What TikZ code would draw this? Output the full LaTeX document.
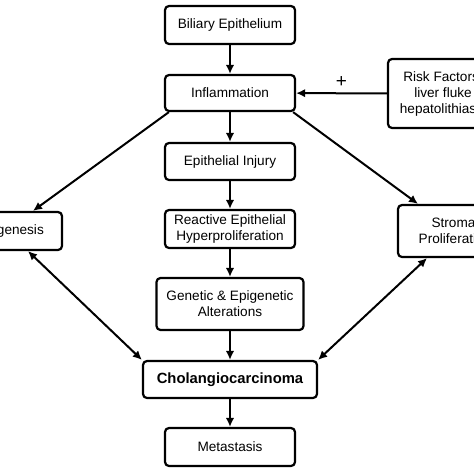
\documentclass[tikz,border=0pt]{standalone}
\usepackage{fontspec}
\setmainfont{Liberation Sans}
\usetikzlibrary{arrows.meta,calc}
\tikzset{
  stage/.style={draw, line width=2.2pt, rounded corners=4pt, align=center, inner sep=0pt,
    minimum width=130pt, minimum height=37pt, font=\fontsize{13.6}{16}\selectfont},
  flow/.style={line width=2pt, -{Latex[length=9pt,width=8.5pt]}},
  mutual/.style={line width=2pt, {Latex[length=9pt,width=8.5pt]}-{Latex[length=9pt,width=8.5pt]}}
}
\begin{document}
\begin{tikzpicture}[x=1pt,y=-1pt]
\useasboundingbox (0,0) rectangle (474,474);
\clip (0,0) rectangle (474,474);
% main column
\node[stage, minimum height=38pt] (bil) at (230,25) {Biliary Epithelium};
\node[stage, minimum height=36pt] (infl) at (230,93) {Inflammation};
\node[stage] (inj) at (230,161.5) {Epithelial Injury};
\node[stage, minimum height=38pt] (hyp) at (230,229) {Reactive Epithelial\\Hyperproliferation};
\node[stage, minimum width=147pt, minimum height=52pt] (gen) at (230,304) {Genetic \& Epigenetic\\Alterations};
\node[stage, minimum width=174pt, font=\fontsize{14.8}{17}\selectfont\bfseries] (cca) at (230,379.5) {Cholangiocarcinoma};
\node[stage, minimum height=38pt] (met) at (230,447) {Metastasis};
% side boxes
\node[stage, minimum width=118pt, minimum height=38pt] (ang) at (3,231) {Angiogenesis};
\node[stage, minimum width=114pt, minimum height=52pt] (strm) at (455,231) {Stromal\\Proliferation};
\node[stage, minimum width=110pt, minimum height=69pt] (risk) at (443,93.5) {Risk Factors:\\liver fluke\\hepatolithiasis};
% arrows
\draw[flow] (bil) -- (infl);
\draw[flow] (infl) -- (inj);
\draw[flow] (inj) -- (hyp);
\draw[flow] (hyp) -- (gen);
\draw[flow] (gen) -- (cca);
\draw[flow] (cca) -- (met);
\draw[flow] (risk) -- node[above=1pt, font=\fontsize{19}{20}\selectfont] (plus) {+} (infl);
\draw[flow] ($(infl.south west)+(5,0)$) -- ($(ang.north)+(30,0)$);
\draw[flow] ($(infl.south east)+(-3,0)$) -- ($(strm.north)+(-37,0)$);
\draw[mutual] (cca.north west) -- ($(ang.south)+(25,0)$);
\draw[mutual] (cca.north east) -- ($(strm.south)+(-28,0)$);
\end{tikzpicture}
\end{document}
